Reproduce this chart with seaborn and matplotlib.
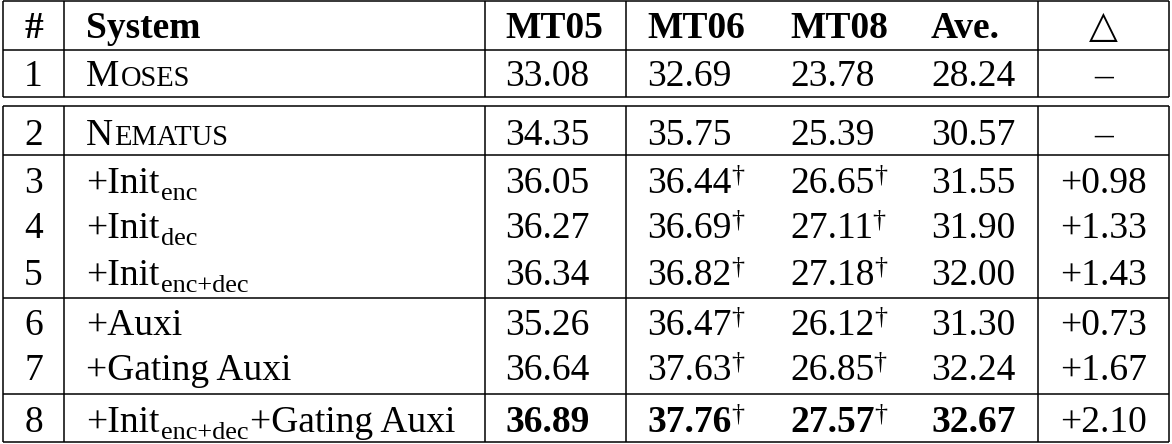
import re
import matplotlib
matplotlib.use("Agg")
import matplotlib.pyplot as plt
import seaborn as sns

# estilo base
sns.set_theme(style="white")
plt.rcParams["font.family"] = ["Liberation Serif", "DejaVu Sans"]

# dados da tabela
headers = ["#", "System", "MT05", "MT06", "MT08", "Ave.", "\u25b3"]
row_ids = [1, 2, 3, 4, 5, 6, 7, 8]
systems = ["sc:Moses", "sc:Nematus", "+Init_{enc}", "+Init_{dec}", "+Init_{enc+dec}",
           "+Auxi", "+Gating Auxi", "+Init_{enc+dec}+Gating Auxi"]
mt05 = [33.08, 34.35, 36.05, 36.27, 36.34, 35.26, 36.64, 36.89]
mt06 = [32.69, 35.75, 36.44, 36.69, 36.82, 36.47, 37.63, 37.76]
mt08 = [23.78, 25.39, 26.65, 27.11, 27.18, 26.12, 26.85, 27.57]
ave = [28.24, 30.57, 31.55, 31.90, 32.00, 31.30, 32.24, 32.67]
delta = [None, None, 0.98, 1.33, 1.43, 0.73, 1.67, 2.10]
dagger = [False, False, True, True, True, True, True, True]
best_row = 8

# layout (pixels)
W, H = 1172, 444
FS = 27
header_y = 37.5
row_y = [85.5, 144.5, 192.5, 237.5, 284.5, 334.5, 379.5, 431.5]
hlines = [1.5, 50, 97, 106, 155, 298, 394, 442]
vlines = [3, 64, 485, 626, 1038, 1169]
col_x = {"id": 33.5, "sys": 86, "mt05": 505, "mt06": 647, "mt08": 790, "ave": 931, "delta": 1103.5}

fig = plt.figure(figsize=(W / 100, H / 100), dpi=100)
ax = fig.add_axes([0, 0, 1, 1])
ax.set_xlim(0, W)
ax.set_ylim(H, 0)
ax.axis("off")
renderer = fig.canvas.get_renderer()


def put_runs(x, y, runs, ha="left"):
    # runs: (texto, escala, deslocamento vertical, negrito, ajuste horizontal)
    arts = []
    cx = x
    for txt, scale, dy, bold, dx in runs:
        cx += dx
        t = ax.text(cx, y + dy, txt, fontsize=FS * scale,
                    fontweight="bold" if bold else "normal",
                    va="baseline", ha="left", color="black")
        cx += t.get_window_extent(renderer).width
        arts.append(t)
    if ha == "center":
        shift = (cx - x) / 2
        for t in arts:
            px, py = t.get_position()
            t.set_position((px - shift, py))


def system_runs(name):
    if name.startswith("sc:"):
        word = name[3:]
        return [(word[0], 1.0, 0, False, 0), (word[1:].upper(), 0.76, 0, False, 1.5)]
    runs = []
    for part in re.split(r"(_\{[^}]*\})", name):
        if not part:
            continue
        if part.startswith("_{"):
            runs.append((part[2:-1], 0.7, 7, False, 1.5))
        else:
            runs.append((part, 1.0, 0, False, 1.5 if runs else 0))
    return runs


def num_runs(v, bold, dag):
    runs = [(f"{v:.2f}", 1.0, 0, bold, 0)]
    if dag:
        runs.append(("\u2020", 0.7, -11, False, -0.5))
    return runs


# linhas
ax.hlines(hlines, vlines[0], vlines[-1], color="black", lw=1.1)
for x in vlines:
    ax.vlines(x, hlines[0], hlines[2], color="black", lw=1.1)
    ax.vlines(x, hlines[3], hlines[-1], color="black", lw=1.1)

# cabeçalho
keys = ["id", "sys", "mt05", "mt06", "mt08", "ave", "delta"]
for key, h in zip(keys, headers):
    bold = h != "\u25b3"
    put_runs(col_x[key], header_y, [(h, 1.0, 0, bold, 0)],
             ha="center" if key in ("id", "delta") else "left")

# linhas de dados
for i, y in enumerate(row_y):
    bold = row_ids[i] == best_row
    put_runs(col_x["id"], y, [(str(row_ids[i]), 1.0, 0, False, 0)], ha="center")
    put_runs(col_x["sys"], y, system_runs(systems[i]))
    put_runs(col_x["mt05"], y, num_runs(mt05[i], bold, False))
    put_runs(col_x["mt06"], y, num_runs(mt06[i], bold, dagger[i]))
    put_runs(col_x["mt08"], y, num_runs(mt08[i], bold, dagger[i]))
    put_runs(col_x["ave"], y, num_runs(ave[i], bold, False))
    d = "\u2013" if delta[i] is None else f"+{delta[i]:.2f}"
    put_runs(col_x["delta"], y, [(d, 1.0, 0, False, 0)], ha="center")

fig.savefig("out.png", dpi=100, facecolor="white")
